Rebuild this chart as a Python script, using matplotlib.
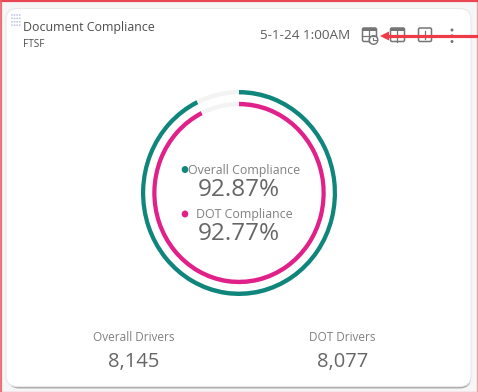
import matplotlib
matplotlib.use("Agg")
import matplotlib.pyplot as plt
from matplotlib.patches import FancyBboxPatch, Rectangle, Circle, Ellipse, Polygon

plt.rcParams['font.family'] = ['Open Sans', 'DejaVu Sans']

title = "Document Compliance"
subtitle = "FTSF"
timestamp = "5-1-24 1:00AM"
series_names = ["Overall Compliance", "DOT Compliance"]
series_values = [92.87, 92.77]
series_colors = ["#0f857b", "#e0218a"]
driver_labels = ["Overall Drivers", "DOT Drivers"]
driver_values = [8145, 8077]
TRACK = "#f3f3f3"
TXT = "#666666"

W, H = 478, 392
fig = plt.figure(figsize=(W/100, H/100), dpi=100, facecolor="#f6f6f6")
bg = fig.add_axes([0, 0, 1, 1])
bg.set_xlim(0, W); bg.set_ylim(H, 0); bg.axis("off")

# card
bg.add_patch(FancyBboxPatch((8, 14), 463, 374.5, boxstyle="round,pad=0,rounding_size=11",
                            fc="#7c7c7c", ec="none", alpha=.6))
bg.add_patch(FancyBboxPatch((6, 8.5), 465, 378, boxstyle="round,pad=0,rounding_size=11",
                            fc="white", ec="#e8e8e8", lw=.8))
# outer screenshot frame
bg.add_patch(Rectangle((.5, 1), W-1, H-1.5, fc="none", ec="#f3a0a6", lw=1))
bg.plot([0, W], [1.4, 1.4], color="#e8434f", lw=1.4)
bg.plot([1.2, 1.2], [0, H], color="#e8636c", lw=1.2)

# drag handle
for i in range(4):
    for j in range(4):
        bg.add_patch(Circle((12+i*2.6, 15+j*3.4), .95, fc="#c3cde2", ec="none"))

bg.text(23.5, 27.5, title, fontsize=8.95, color="#4d4d4d", va="center", ha="left", fontweight=500)
bg.text(23.5, 44.5, subtitle, fontsize=7.2, color="#4d4d4d", va="center", ha="left")
bg.text(260, 35.5, timestamp, fontsize=9.7, color="#5c5c5c", va="center", ha="left")

# icons
IC = "#757575"
for x0, x1 in [(362.5, 376.5), (390.5, 404.5)]:
    y0, y1 = 28, 41.5
    bg.add_patch(FancyBboxPatch((x0, y0), x1-x0, y1-y0, boxstyle="round,pad=0,rounding_size=1.5",
                                fc="white", ec=IC, lw=1.1))
    bg.add_patch(Rectangle((x0, y0), x1-x0, 2.5, fc=IC, ec="none"))
    bg.plot([x0, x1], [35.5, 35.5], color=IC, lw=.9)
    bg.plot([(x0+x1)/2]*2, [y0, y1], color=IC, lw=.9)
bg.add_patch(Circle((373.5, 40), 4.3, fc="white", ec=IC, lw=1.0))
bg.plot([373.5, 373.5, 376], [37.5, 40.3, 40.3], color=IC, lw=.8)
bg.add_patch(FancyBboxPatch((418.5, 28), 13, 13.5, boxstyle="round,pad=0,rounding_size=1.5",
                            fc="white", ec=IC, lw=1.1))
bg.plot([425, 425], [31, 38.5], color=IC, lw=.9)
for yy in (30, 35.8, 41.5):
    bg.add_patch(Circle((452, yy), 1.5, fc=IC, ec="none"))

# red arrow
bg.plot([384, W], [36, 36], color="#ee3b48", lw=2.3, solid_capstyle="butt")
bg.add_patch(Polygon([[380, 36], [389, 31.5], [389, 40.5]], fc="#ee3b48", ec="none"))

# rings
L, R, T, B = 141, 337, 90, 296
ax = fig.add_axes([L/W, 1-B/H, (R-L)/W, (B-T)/H])
radii = [1.0, 0.885]
for v, c, r in zip(series_values, series_colors, radii):
    ax.pie([v, 100-v], colors=[c, TRACK], radius=r, startangle=90, counterclock=False,
           wedgeprops=dict(width=0.043, lw=0))
ax.set_xlim(-1, 1); ax.set_ylim(-1, 1); ax.set_aspect("auto"); ax.axis("off")
ax.patch.set_alpha(0)

top = fig.add_axes([0, 0, 1, 1]); top.set_xlim(0, W); top.set_ylim(H, 0); top.axis("off")
top.patch.set_alpha(0)
top.add_patch(Ellipse((185, 169.5), 6.6, 7, fc=series_colors[0], ec="none"))
top.add_patch(Ellipse((185, 214), 6.6, 7, fc=series_colors[1], ec="none"))
top.text(244.5, 170, series_names[0], fontsize=8.95, color="#808080", ha="center", va="center")
top.text(238.5, 189.5, f"{series_values[0]:.2f}%", fontsize=17.5, color=TXT, ha="center", va="center")
top.text(244.5, 214, series_names[1], fontsize=8.95, color="#808080", ha="center", va="center")
top.text(238.5, 234, f"{series_values[1]:.2f}%", fontsize=17.5, color=TXT, ha="center", va="center")

for cx, lab, val in zip([134, 342.5], driver_labels, driver_values):
    top.text(cx, 337.5, lab, fontsize=8.5, color="#808080", ha="center", va="center")
    top.text(cx, 362, f"{val:,}", fontsize=14.5, color=TXT, ha="center", va="center")

fig.savefig("out.png", dpi=100, facecolor=fig.get_facecolor())
